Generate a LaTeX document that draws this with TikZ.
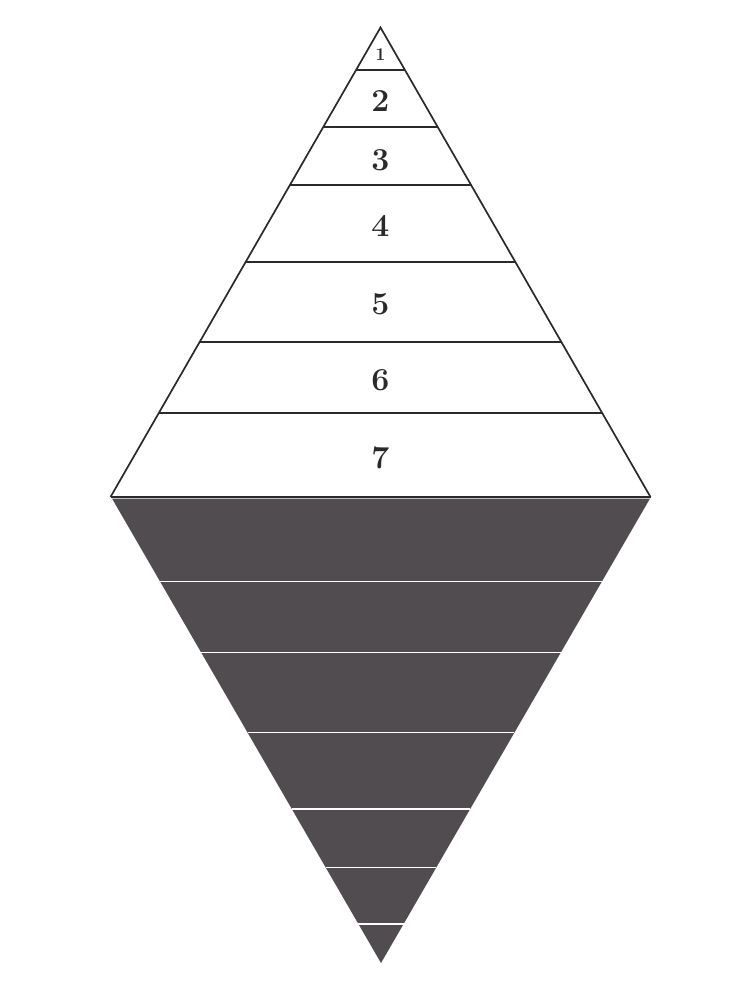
\documentclass[tikz,border=0pt]{standalone}
\usetikzlibrary{calc}
\definecolor{edgecol}{HTML}{2A2A2A}
\definecolor{darkfill}{HTML}{504C50}
\begin{document}
\begin{tikzpicture}[x=1pt,y=-1pt,
  edge/.style={draw=edgecol,line width=1.7pt,line join=miter},
  tier/.style={draw=edgecol,line width=1.9pt},
  gap/.style={draw=white,line width=1.9pt},
  num/.style={font=\fontsize{32}{32}\selectfont\bfseries,text=edgecol,inner sep=0pt},
  numsmall/.style={font=\fontsize{18}{18}\selectfont\bfseries,text=edgecol,inner sep=0pt}]
\useasboundingbox (0,0) rectangle (747,999);
% upper triangle
\coordinate (A) at (380.5,27.5);
\coordinate (L) at (110.5,497);
\coordinate (R) at (650.5,497);
% lower triangle
\coordinate (BL) at (112,498.5);
\coordinate (BR) at (650,498.5);
\coordinate (B) at (381,963);
\fill[darkfill] (BL) -- (BR) -- (B) -- cycle;
\foreach \y in {581.5,652.5,732.5,809,867.5,924}{
  \draw[gap] ($(B)!{(963-\y)/464.5}!(BL)$) -- ($(B)!{(963-\y)/464.5}!(BR)$);
}
\foreach \y in {70,127,185,262,342,413}{
  \draw[tier] ($(A)!{(\y-27.5)/469.5}!(L)$) -- ($(A)!{(\y-27.5)/469.5}!(R)$);
}
\draw[edge] (L) -- (A) -- (R);
\draw[tier] (L) -- (R);
\node[numsmall] (n1) at (380.5,55) {1};
\node[num] (n2) at (380.5,101) {2};
\node[num] (n3) at (380.5,160) {3};
\node[num] (n4) at (380.5,226) {4};
\node[num] (n5) at (380.5,304) {5};
\node[num] (n6) at (380.5,380) {6};
\node[num] (n7) at (380.5,458) {7};
\end{tikzpicture}
\end{document}
